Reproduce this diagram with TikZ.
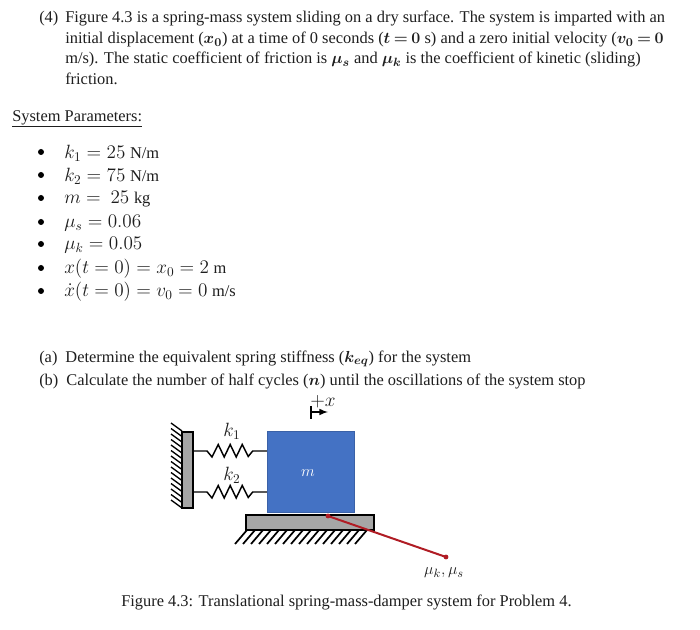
\documentclass[tikz,border=0pt]{standalone}
\usepackage{amsmath}
\usepackage{fontspec}
\setmainfont{Liberation Serif}
\usetikzlibrary{calc}
\definecolor{massblue}{HTML}{4472C4}
\definecolor{frictionred}{HTML}{B01C24}
\definecolor{inkgray}{HTML}{1E1E1E}
\def\springh[#1](#2)(#3){\draw[#1] (#2) -- ++(14,0) -- ++(5,6) -- ++(6.2,-12.5) -- ++(6,12.5) -- ++(6,-12.5) -- ++(6,12.5) -- ++(6,-12.5) -- ++(6,12) -- ++(4.5,-5.5) -- (#3);}
\def\unitfont#1{{\fontsize{12.3pt}{14pt}\selectfont #1}}
\tikzset{
	txt/.style={anchor=west, inner sep=0pt, text=inkgray, font=\fontsize{12.3pt}{14pt}\selectfont},
	eqn/.style={anchor=west, inner sep=0pt, text=inkgray, font=\fontsize{13.8pt}{16pt}\selectfont},
	blob/.style={fill=black, draw=none, circle, inner sep=0pt, minimum size=4.5pt},
	hatchline/.style={line width=1pt},
	outline/.style={draw=black, line width=1.2pt, fill=black!35}
}

\begin{document}
\begin{tikzpicture}[x=0.75pt, y=-0.75pt]
			%%%%% START %%%%%
			
			\useasboundingbox[fill=white] (0, 0) rectangle (700, 630);
			
			\node[txt] (pnum) at (39, 19) {(4)};
			\node[txt] (line1) at (65, 19) {Figure 4.3 is a spring-mass system sliding on a dry surface. The system is imparted with an};
			\node[txt] (line2) at (65, 40) {\thickmuskip=3.5mu initial displacement ($\boldsymbol{x_0}$) at a time of 0 seconds ($\boldsymbol{t=0}$ s) and a zero initial velocity ($\boldsymbol{v_0=0}$};
			\node[txt] (line3) at (65, 60) {m/s). The static coefficient of friction is $\boldsymbol{\mu_s}$ and $\boldsymbol{\mu_k}$ is the coefficient of kinetic (sliding)};
			\node[txt] (line4) at (65, 79) {friction.};
			
			\node[txt] (paramhead) at (12, 118) {System Parameters:};
			\draw[inkgray, line width=0.7pt] (paramhead.south west) ++(0, 1) -- ($(paramhead.south east)+(0, 1)$);
			
			\foreach \yy in {152, 175, 198, 222, 244, 268, 291}
				\node[blob] at (41, \yy) {};
			
			\node[eqn] (par1) at (64, 153) {$k_1=25$ \unitfont{N/m}};
			\node[eqn] (par2) at (64, 176) {$k_2=75$ \unitfont{N/m}};
			\node[eqn] (par3) at (64, 199) {$m=\ 25$ \unitfont{kg}};
			\node[eqn] (par4) at (64, 223) {$\mu_s=0.06$};
			\node[eqn] (par5) at (64, 245) {$\mu_k=0.05$};
			\node[eqn] (par6) at (64, 269) {$x(t=0)=x_0=2$ \unitfont{m}};
			\node[eqn] (par7) at (64, 292) {$\dot{x}(t=0)=v_0=0$ \unitfont{m/s}};
			
			\node[txt] (parta) at (39, 359) {(a)\hspace{6pt}Determine the equivalent spring stiffness ($\boldsymbol{k_{eq}}$) for the system};
			\node[txt] (partb) at (39, 381) {(b)\hspace{6pt}Calculate the number of half cycles ($\boldsymbol{n}$) until the oscillations of the system stop};
			
			% wall
			\foreach \yy in {431, 436.5, ..., 510}
				\draw[hatchline] (182, \yy) -- (171, \yy-8);
			\draw[outline] (182, 432) rectangle (193, 508);
			
			% springs
			\springh[line width=1.1pt](193, 451)(267, 451);
			\springh[line width=1.1pt](193, 492)(267, 492);
			\node[eqn] (k1) at (232, 431) [anchor=center] {$k_1$};
			\node[eqn] (k2) at (232, 475) [anchor=center] {$k_2$};
			
			% mass
			\draw[fill=massblue, draw=massblue!85!black] (267, 431) rectangle (354, 512);
			\node[anchor=center, text=white, font=\fontsize{12.5pt}{15pt}\selectfont] (mass) at (308, 473) {$m$};
			
			% direction
			\draw[line width=1.3pt] (311, 406) -- (311, 419);
			\draw[line width=1.2pt, -latex] (311, 412) -- (328, 412);
			\node[eqn, anchor=center] (plusx) at (323, 402) {$+x$};
			
			% base and ground
			\draw[outline] (246, 515) rectangle (374, 530);
			\foreach \xx in {247, 255, ..., 374}
				\draw[line width=1.3pt] (\xx, 530) -- (\xx-12, 544);
			
			% friction pointer
			\draw[frictionred, line width=1.5pt] (328, 516) -- (446, 557);
			\fill[frictionred] (328, 516) circle (2.4);
			\fill[frictionred] (446, 557) circle (2.4);
			\node[eqn, anchor=center, font=\fontsize{12.2pt}{15pt}\selectfont] (mulabel) at (444, 573) {$\mu_k,\mu_s$};
			
			\node[txt] (caption) at (121, 602) {Figure 4.3: Translational spring-mass-damper system for Problem 4.};
			
			%%%%% END %%%%%
		\end{tikzpicture}
\end{document}
